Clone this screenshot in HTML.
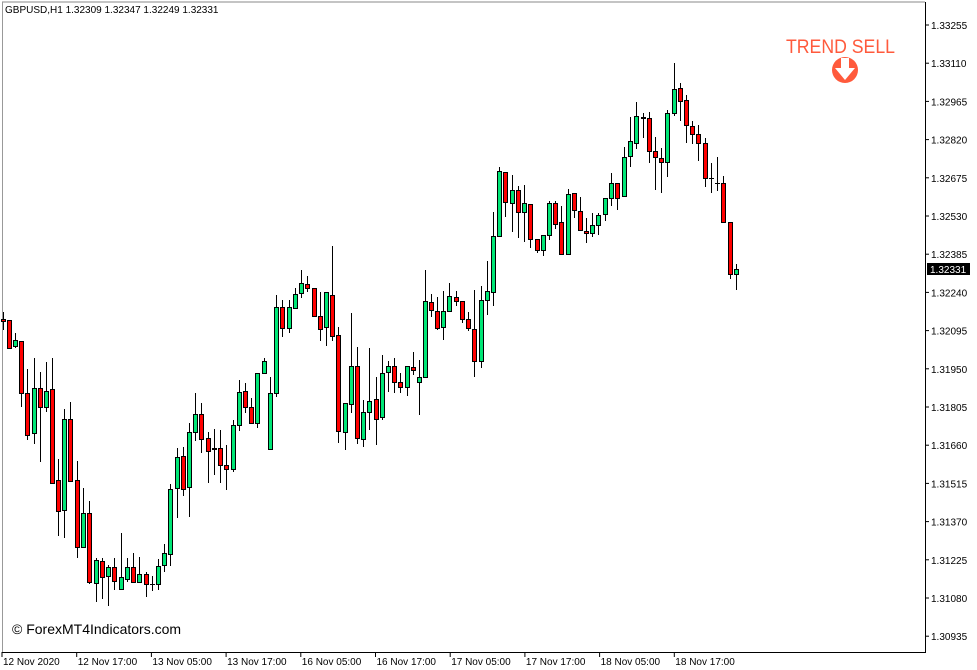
<!DOCTYPE html>
<html><head><meta charset="utf-8"><style>
html,body{margin:0;padding:0;background:#fff;}
svg text{font-family:"Liberation Sans",sans-serif;}
</style></head><body>
<svg id="c" width="977" height="670" xmlns="http://www.w3.org/2000/svg" style="display:block">
<rect width="977" height="670" fill="#fff"/>
<line x1="2" y1="2" x2="925" y2="2" stroke="#888" stroke-width="1"/>
<line x1="2.5" y1="2" x2="2.5" y2="652" stroke="#999" stroke-width="1"/>
<line x1="925.5" y1="2" x2="925.5" y2="652" stroke="#000" stroke-width="1"/>
<line x1="2" y1="652.5" x2="926" y2="652.5" stroke="#000" stroke-width="1"/>
<text x="5" y="13" font-size="10" fill="#000">GBPUSD,H1  1.32309 1.32347 1.32249 1.32331</text>
<g id="pa" font-size="10" fill="#000"></g>
<g id="da" font-size="10" fill="#000"></g>
<g id="cd"></g>
<rect x="927" y="263" width="43" height="12" fill="#000"/>
<text x="930" y="273" font-size="10" fill="#fff">1.32331</text>
<text x="786" y="53" font-size="19" fill="#ff5a3c" textLength="109" lengthAdjust="spacingAndGlyphs">TREND SELL</text>
<circle cx="845" cy="70" r="13" fill="#ff5a3c"/>
<path d="M841 58 h8 v10 h6 l-10 12 l-10 -12 h6 z" fill="#fff"/>
<text x="12" y="634" font-size="14" fill="#000">© ForexMT4Indicators.com</text>
</svg>
<script>
var NS="http://www.w3.org/2000/svg";
function el(t,a,p,txt){var e=document.createElementNS(NS,t);for(var k in a)e.setAttribute(k,a[k]);if(txt)e.textContent=txt;p.appendChild(e);return e;}
var pa=document.getElementById('pa');
var prices=["1.33255","1.33110","1.32965","1.32820","1.32675","1.32530","1.32385","1.32240","1.32095","1.31950","1.31805","1.31660","1.31515","1.31370","1.31225","1.31080","1.30935"];
prices.forEach(function(p,i){var y=25+i*38.2;el('line',{x1:925,y1:y,x2:929,y2:y,stroke:'#000'},pa);el('text',{x:931,y:y+4},pa,p);});
var da=document.getElementById('da');
var dl=["12 Nov 2020","12 Nov 17:00","13 Nov 05:00","13 Nov 17:00","16 Nov 05:00","16 Nov 17:00","17 Nov 05:00","17 Nov 17:00","18 Nov 05:00","18 Nov 17:00"];
dl.forEach(function(d,i){var x=2+i*74.7;el('line',{x1:x,y1:652,x2:x,y2:657,stroke:'#000'},da);el('text',{x:x+1,y:665},da,d);});
var D=[
[3,'r',319,321,312,330],[9,'r',320,348,320,348],[15,'g',340,346,333,348],[21,'r',341,393,341,407],[27,'r',393,435,369,440],
[34,'g',388,433,358,444],[40,'r',388,407,372,462],[46,'g',391,407,362,412],[52,'r',389,483,358,483],[58,'r',480,511,459,536],
[64,'g',419,510,409,538],[70,'r',419,481,402,481],[77,'r',480,547,461,558],[83,'g',513,547,488,547],[89,'r',513,582,501,584],
[96,'g',560,583,558,602],[102,'r',561,577,558,599],[108,'g',567,576,565,606],[114,'r',567,581,558,590],[121,'g',577,589,533,589],
[127,'g',567,579,558,582],[133,'r',567,582,553,582],[139,'g',574,582,557,583],[146,'r',574,584,572,597],[152,'d',584,584,576,591],
[158,'g',566,584,559,590],[164,'g',553,565,544,572],[170,'g',489,554,484,566],[177,'g',457,488,448,518],[183,'r',456,489,447,496],
[189,'g',432,487,423,517],[195,'g',414,432,393,441],[201,'r',414,439,403,453],[208,'r',438,451,432,483],[214,'g',448,449,429,475],
[220,'r',448,465,430,483],[226,'r',465,469,445,490],[233,'g',425,469,420,472],[239,'g',392,425,380,431],[245,'r',391,407,383,413],
[251,'r',407,423,398,423],[257,'g',373,423,373,428],[264,'g',361,373,358,373],[270,'g',393,449,377,449],[276,'g',307,393,295,397],
[282,'r',307,328,300,337],[289,'g',307,328,300,333],[295,'g',294,308,288,308],[301,'g',283,293,270,298],[307,'r',284,288,276,292],
[314,'r',288,316,288,316],[320,'r',316,329,292,341],[326,'g',292,327,292,346],[332,'r',295,336,246,341],[338,'r',335,431,327,443],
[345,'g',403,432,403,450],[351,'g',366,404,313,413],[357,'r',366,438,347,444],[363,'g',412,439,400,447],[369,'g',401,412,348,430],
[376,'r',399,419,377,445],[382,'g',373,417,355,420],[388,'g',366,372,361,392],[394,'r',366,382,358,393],[400,'r',382,387,373,393],
[407,'g',366,387,366,396],[413,'r',367,370,352,375],[419,'g',377,382,360,415],[425,'g',301,377,270,377],[431,'r',302,310,294,317],
[437,'r',311,328,297,330],[443,'g',311,327,291,340],[449,'g',296,311,283,311],[456,'r',297,301,291,306],[462,'r',301,319,301,323],
[468,'r',319,328,312,331],[474,'r',329,361,290,377],[481,'g',300,361,286,368],[487,'g',291,300,261,315],[493,'g',236,292,212,306],
[499,'g',171,236,167,236],[505,'r',172,202,172,217],[512,'g',190,203,175,232],[518,'r',190,212,186,238],[524,'g',203,212,185,242],
[530,'r',204,239,204,248],[537,'r',239,250,239,253],[543,'g',235,250,235,256],[549,'g',203,235,201,240],[555,'r',203,224,201,229],
[561,'r',222,254,206,255],[568,'g',194,254,189,254],[574,'r',193,210,193,218],[580,'r',211,230,197,230],[586,'r',231,233,218,243],
[592,'g',225,233,213,237],[598,'g',215,225,213,235],[605,'g',198,214,198,221],[611,'g',183,198,173,206],[617,'r',183,198,183,210],
[624,'g',157,196,147,196],[630,'g',141,156,117,167],[636,'g',116,143,102,149],[643,'r',117,118,113,138],[649,'r',118,151,112,163],
[655,'r',151,157,137,190],[661,'r',158,162,148,193],[667,'g',113,162,110,177],[674,'g',89,113,63,116],[680,'r',88,101,83,121],
[686,'r',100,125,95,143],[692,'r',126,134,121,144],[698,'r',134,143,125,161],[705,'r',143,178,138,187],[711,'d',178,178,163,193],
[717,'d',183,183,157,191],[723,'r',183,222,176,222],[730,'r',222,274,222,279],[736,'g',269,274,264,290]];
var cd=document.getElementById('cd');
D.forEach(function(c){var x=c[0]+0.5;
el('line',{x1:x,y1:c[4],x2:x,y2:c[5],stroke:'#000','stroke-width':1},cd);
if(c[1]=='d'){el('line',{x1:x-2.5,y1:c[2]+0.5,x2:x+2.5,y2:c[2]+0.5,stroke:'#000'},cd);}
else{el('rect',{x:c[0]-2+0.5,y:c[2]+0.5,width:4,height:Math.max(1,c[3]-c[2]),fill:c[1]=='g'?'#00e676':'#ff0000',stroke:'#000','stroke-width':1},cd);}
});
</script>
</body></html>
